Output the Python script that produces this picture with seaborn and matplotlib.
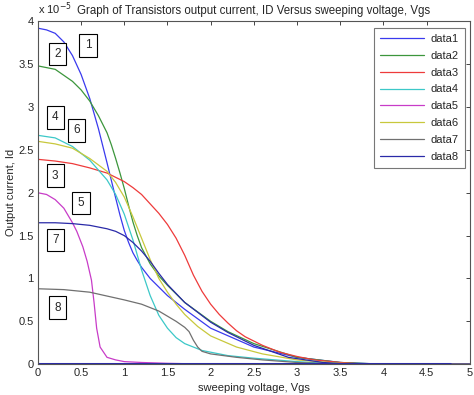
import numpy as np
import pandas as pd
import matplotlib
matplotlib.use('Agg')
import matplotlib.pyplot as plt
import seaborn as sns

## curves, current in units of 1e-5
x1 = [0, 0.1, 0.2, 0.3, 0.4, 0.5, 0.6, 0.7, 0.8, 0.9, 0.95, 1.0, 1.05, 1.1, 1.15, 1.2, 1.3, 1.4, 1.5, 1.7, 2.0, 2.5, 3.0, 3.5, 4.0, 5.0]
y1 = [3.92, 3.9, 3.86, 3.76, 3.6, 3.38, 3.1, 2.75, 2.35, 1.94, 1.74, 1.56, 1.42, 1.3, 1.21, 1.13, 1.0, 0.9, 0.8, 0.64, 0.42, 0.2, 0.08, 0.02, 0.0, 0.0]

x2 = [0, 0.2, 0.4, 0.5, 0.6, 0.7, 0.8, 0.85, 0.9, 0.95, 1.0, 1.05, 1.1, 1.15, 1.2, 1.3, 1.4, 1.5, 1.7, 2.0, 2.2, 2.5, 3.0, 3.5, 4.0, 5.0]
y2 = [3.48, 3.44, 3.3, 3.2, 3.07, 2.9, 2.7, 2.56, 2.4, 2.23, 2.05, 1.85, 1.66, 1.5, 1.36, 1.17, 1.03, 0.92, 0.72, 0.5, 0.38, 0.24, 0.08, 0.02, 0.0, 0.0]

x3 = [0, 0.2, 0.4, 0.6, 0.8, 1.0, 1.1, 1.2, 1.3, 1.4, 1.5, 1.6, 1.7, 1.8, 1.9, 2.0, 2.1, 2.2, 2.3, 2.4, 2.6, 2.8, 3.0, 3.2, 3.5, 3.8, 5.0]
y3 = [2.39, 2.37, 2.34, 2.29, 2.23, 2.13, 2.06, 1.98, 1.87, 1.76, 1.63, 1.47, 1.27, 1.04, 0.85, 0.7, 0.58, 0.48, 0.39, 0.32, 0.22, 0.14, 0.09, 0.05, 0.02, 0.0, 0.0]

x4 = [0, 0.2, 0.4, 0.6, 0.8, 0.9, 1.0, 1.1, 1.2, 1.3, 1.4, 1.5, 1.6, 1.7, 1.9, 2.2, 2.5, 3.0, 3.5, 5.0]
y4 = [2.67, 2.64, 2.54, 2.38, 2.15, 1.98, 1.75, 1.45, 1.1, 0.8, 0.57, 0.42, 0.31, 0.24, 0.16, 0.1, 0.07, 0.03, 0.0, 0.0]

x5 = [0, 0.1, 0.2, 0.3, 0.4, 0.45, 0.52, 0.57, 0.62, 0.65, 0.68, 0.72, 0.8, 0.9, 1.0, 1.2, 1.5, 2.0, 5.0]
y5 = [2.0, 1.98, 1.92, 1.82, 1.65, 1.55, 1.37, 1.2, 0.98, 0.72, 0.42, 0.2, 0.08, 0.05, 0.03, 0.02, 0.01, 0.0, 0.0]

x6 = [0, 0.2, 0.4, 0.6, 0.8, 0.9, 1.0, 1.1, 1.2, 1.3, 1.4, 1.5, 1.6, 1.7, 1.85, 2.0, 2.3, 2.6, 3.0, 3.5, 4.0, 5.0]
y6 = [2.6, 2.57, 2.52, 2.4, 2.25, 2.12, 1.95, 1.72, 1.47, 1.22, 1.0, 0.84, 0.7, 0.58, 0.44, 0.33, 0.2, 0.12, 0.05, 0.01, 0.0, 0.0]

x7 = [0, 0.3, 0.6, 1.0, 1.2, 1.4, 1.6, 1.7, 1.75, 1.8, 1.85, 1.9, 2.0, 2.3, 2.6, 3.0, 3.5, 5.0]
y7 = [0.88, 0.87, 0.84, 0.75, 0.7, 0.62, 0.5, 0.43, 0.38, 0.28, 0.2, 0.15, 0.12, 0.08, 0.05, 0.02, 0.0, 0.0]

x8 = [0, 0.2, 0.4, 0.6, 0.8, 0.9, 1.0, 1.1, 1.2, 1.3, 1.4, 1.5, 1.7, 2.0, 2.2, 2.5, 2.9, 3.3, 3.6, 5.0]
y8 = [1.65, 1.65, 1.64, 1.62, 1.58, 1.55, 1.5, 1.42, 1.32, 1.2, 1.06, 0.93, 0.72, 0.49, 0.37, 0.22, 0.08, 0.02, 0.0, 0.0]

# flat trace lying on the x axis (not in legend)
x_floor = [0, 4.77]
y_floor = [0, 0]

names = ['data1', 'data2', 'data3', 'data4', 'data5', 'data6', 'data7', 'data8']
colors = ['#3a3aee', '#3c963c', '#ee3b3b', '#3cc8c8', '#c83cc8', '#c8c83c', '#707070', '#2a2aa8']

## box labels next to the curves
box_text = ['1', '2', '3', '4', '5', '6', '7', '8']
box_x = [0.58, 0.23, 0.2, 0.2, 0.5, 0.45, 0.2, 0.23]
box_y = [3.72, 3.62, 2.2, 2.88, 1.88, 2.73, 1.45, 0.66]

sns.set_style('white')
plt.rcParams['font.family'] = ['Liberation Sans', 'DejaVu Sans']
plt.rcParams['font.size'] = 8

fig = plt.figure(figsize=(4.74, 3.95), dpi=100)
ax = fig.add_axes([0.080, 0.078, 0.911, 0.868])

xs = [x1, x2, x3, x4, x5, x6, x7, x8]
ys = [y1, y2, y3, y4, y5, y6, y7, y8]
for xv, yv, n, c in zip(xs, ys, names, colors):
    sns.lineplot(x=xv, y=yv, color=c, label=n, lw=0.9, sort=False, ax=ax)
sns.lineplot(x=x_floor, y=y_floor, color='#2a2aa8', lw=2.2, sort=False, ax=ax, legend=False)

for t, bx, by in zip(box_text, box_x, box_y):
    ax.text(bx, by, t, ha='center', va='center', fontsize=8.5,
            bbox=dict(boxstyle='square,pad=0.45', fc='white', ec='black', lw=0.8))

ax.set_xlim(0, 5)
ax.set_ylim(0, 4)
ax.set_xticks(np.arange(0, 5.01, 0.5))
ax.set_yticks(np.arange(0, 4.01, 0.5))
ax.set_xticklabels(['0', '0.5', '1', '1.5', '2', '2.5', '3', '3.5', '4', '4.5', '5'])
ax.set_yticklabels(['0', '0.5', '1', '1.5', '2', '2.5', '3', '3.5', '4'])
ax.tick_params(direction='in', top=True, right=True, length=3, width=0.6, labelsize=8, pad=3)
for s in ax.spines.values():
    s.set_color('#555555')
    s.set_linewidth(0.8)

ax.set_title('Graph of Transistors output current, ID Versus sweeping voltage, Vgs', fontsize=8.3, pad=5)
ax.text(0.0, 1.012, 'x 10$^{-5}$', transform=ax.transAxes, fontsize=8, ha='left', va='bottom')
ax.set_xlabel('sweeping voltage, Vgs', fontsize=8, labelpad=3)
ax.set_ylabel('Output current, Id', fontsize=8, labelpad=2)

leg = ax.legend(loc='upper right', bbox_to_anchor=(0.988, 0.980), borderaxespad=0, fontsize=8,
                frameon=True, fancybox=False, edgecolor='#555555', handlelength=4.0,
                labelspacing=0.62, borderpad=0.5, handletextpad=0.6)
leg.get_frame().set_linewidth(0.8)

plt.savefig('out.png', dpi=100)
